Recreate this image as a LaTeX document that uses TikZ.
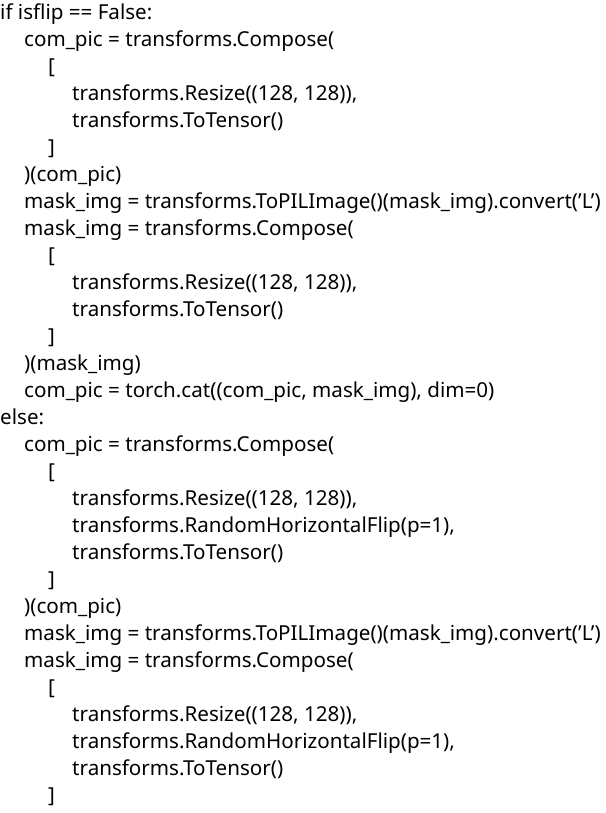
\documentclass[tikz,border=0pt]{standalone}
\usepackage{fontspec}
\setmainfont{Noto Sans}
\newcommand{\sq}{\char39\relax}
\begin{document}
\begin{tikzpicture}[x=1pt,y=-1pt,every node/.style={anchor=west,inner sep=0pt,font=\fontsize{20.6}{22}\selectfont}]
\useasboundingbox[fill=white] (0,0) rectangle (605,813);
\foreach \i/\x/\t in {
0/0/{if isflip == False:},
1/24/{com\_pic = transforms.Compose(},
2/48/{[},
3/72/{transforms.Resize((128, 128)),},
4/72/{transforms.ToTensor()},
5/48/{]},
6/24/{)(com\_pic)},
7/24/{mask\_img = transforms.ToPILImage()(mask\_img).convert(\sq L\sq)},
8/24/{mask\_img = transforms.Compose(},
9/48/{[},
10/72/{transforms.Resize((128, 128)),},
11/72/{transforms.ToTensor()},
12/48/{]},
13/24/{)(mask\_img)},
14/24/{com\_pic = torch.cat((com\_pic, mask\_img), dim=0)},
15/0/{else:},
16/24/{com\_pic = transforms.Compose(},
17/48/{[},
18/72/{transforms.Resize((128, 128)),},
19/72/{transforms.RandomHorizontalFlip(p=1),},
20/72/{transforms.ToTensor()},
21/48/{]},
22/24/{)(com\_pic)},
23/24/{mask\_img = transforms.ToPILImage()(mask\_img).convert(\sq L\sq)},
24/24/{mask\_img = transforms.Compose(},
25/48/{[},
26/72/{transforms.Resize((128, 128)),},
27/72/{transforms.RandomHorizontalFlip(p=1),},
28/72/{transforms.ToTensor()},
29/48/{]}}
{\node (l\i) at (\x,{15+27*\i}) {\strut\t};}
\end{tikzpicture}
\end{document}
